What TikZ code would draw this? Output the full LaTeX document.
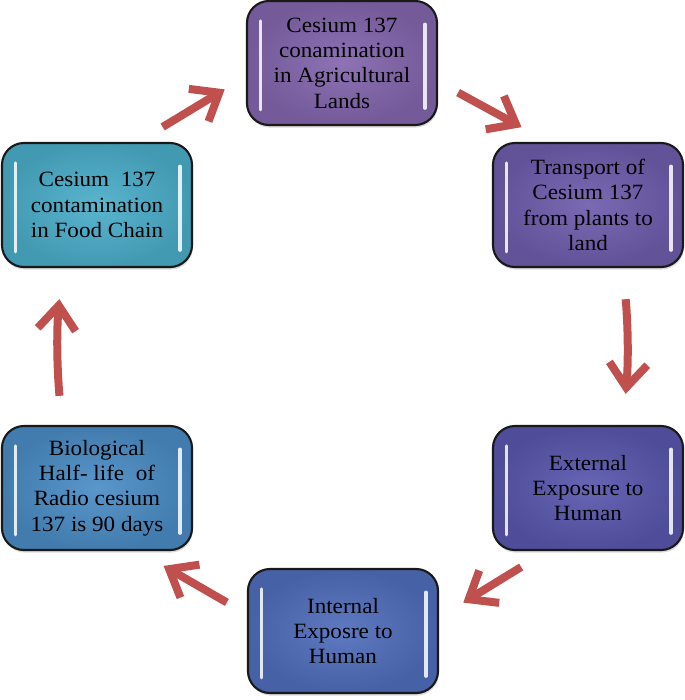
\documentclass[tikz,border=0pt]{standalone}
\usepackage{fontspec}
\setmainfont{Liberation Serif}[FakeStretch=1.06]
\usepackage{tikz}
\usetikzlibrary{arrows.meta}
\usetikzlibrary{shadows}
\definecolor{arrowred}{HTML}{C0504D}
\definecolor{agricolor}{HTML}{8466AE}
\definecolor{transcolor}{HTML}{6F5DAD}
\definecolor{extcolor}{HTML}{5A58AE}
\definecolor{intcolor}{HTML}{506EBB}
\definecolor{biocolor}{HTML}{4B8DC6}
\definecolor{foodcolor}{HTML}{4BAECA}
\tikzstyle{glint} = [draw=white, line width=2.2pt, line cap=round, opacity=0.85]
\tikzset{cyclebox/.style={draw=black!90, line width=1.5pt, rectangle, rounded corners=0.55cm,
    minimum width=4.75cm, minimum height=3.1cm, inner sep=2pt, align=center,
    font=\fontsize{15.5}{18}\selectfont, text=black,
    inner color=#1!92!white, outer color=#1!88!black,
    drop shadow={shadow xshift=0.5pt, shadow yshift=-1.8pt, opacity=0.3},
    path picture={
        \draw[glint] ([shift={(0.33cm,-0.5cm)}]path picture bounding box.north west)
            -- ([shift={(0.33cm,0.38cm)}]path picture bounding box.south west);
        \draw[glint] ([shift={(-0.3cm,-0.58cm)}]path picture bounding box.north east)
            -- ([shift={(-0.3cm,0.42cm)}]path picture bounding box.south east);
    }}}
\tikzstyle{cyclearrow} = [draw=arrowred, line width=0.2cm,
    -{Straight Barb[length=0.6cm, width=0.95cm]},
    preaction={draw=black, opacity=0.15, transform canvas={xshift=0.8pt, yshift=-1.5pt}}]

\begin{document}
\begin{tikzpicture}[x=0.025cm, y=-0.025cm]
    \useasboundingbox (0,0) rectangle (685,700);
    \node[cyclebox=agricolor] (agri) at (342,63) {Cesium 137\\conamination\\in Agricultural\\Lands};
    \node[cyclebox=transcolor] (trans) at (588,205) {Transport of\\Cesium 137\\from plants to\\land};
    \node[cyclebox=extcolor] (ext) at (588,488) {External\\Exposure to\\Human};
    \node[cyclebox=intcolor] (inter) at (343,631) {Internal\\Exposre to\\Human};
    \node[cyclebox=biocolor] (bio) at (97,488) {Biological\\Half- life \ of\\Radio cesium\\137 is 90 days};
    \node[cyclebox=foodcolor] (food) at (97,205) {Cesium \ 137\\contamination\\in Food Chain};

    \draw[cyclearrow, shorten <=0.72cm, shorten >=0.62cm] (food.57) -- (agri.188);
    \draw[cyclearrow, shorten <=0.57cm, shorten >=0.77cm] (agri.349) -- (trans.122);
    \draw[cyclearrow, shorten <=0.78cm, shorten >=0.78cm] (trans.299) to[bend left=5] (ext.61);
    \draw[cyclearrow, shorten <=0.76cm, shorten >=0.71cm] (ext.237) -- (inter.8);
    \draw[cyclearrow, shorten <=0.58cm, shorten >=0.74cm] (inter.170) -- (bio.303);
    \draw[cyclearrow, shorten <=0.73cm, shorten >=0.78cm] (bio.119) to[bend left=5] (food.241);
\end{tikzpicture}
\end{document}
